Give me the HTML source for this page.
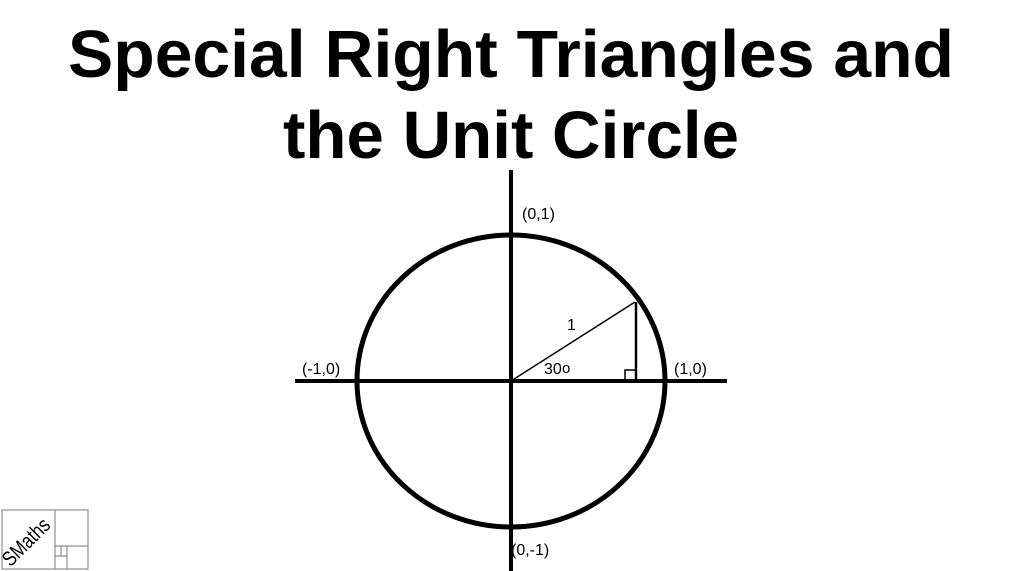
<!DOCTYPE html>
<html><head><meta charset="utf-8"><style>
html,body{margin:0;padding:0;background:#fff;}
svg{display:block;}
</style></head><body>
<svg width="1024" height="571" viewBox="0 0 1024 571" xmlns="http://www.w3.org/2000/svg">
<rect width="1024" height="571" fill="#fff"/>
<g font-family="Liberation Sans, Arial, sans-serif" font-weight="bold" font-size="67" fill="#000" text-anchor="middle">
<text x="511" y="77" textLength="886" lengthAdjust="spacingAndGlyphs">Special Right Triangles and</text>
<text x="511" y="158" textLength="456" lengthAdjust="spacingAndGlyphs">the Unit Circle</text>
</g>
<ellipse cx="511" cy="381" rx="154" ry="146" fill="none" stroke="#000" stroke-width="5"/>
<line x1="511" y1="170" x2="511" y2="571" stroke="#000" stroke-width="4"/>
<line x1="295" y1="381" x2="727" y2="381" stroke="#000" stroke-width="4"/>
<line x1="511" y1="381" x2="635" y2="302" stroke="#000" stroke-width="1.5"/>
<line x1="636" y1="302" x2="636" y2="381" stroke="#000" stroke-width="2.5"/>
<polyline points="625,381 625,370 636,370" fill="none" stroke="#000" stroke-width="1.5"/>
<g font-family="Liberation Sans, Arial, sans-serif" font-size="16" fill="#000">
<text x="522" y="219">(0,1)</text>
<text x="302" y="374">(-1,0)</text>
<text x="674" y="374">(1,0)</text>
<text x="511" y="555">(0,-1)</text>
<text x="567" y="330">1</text>
<text x="544" y="374">30</text>
<text x="562" y="373" font-size="15">o</text>
</g>
<g fill="none" stroke="#777" stroke-width="1">
<rect x="2" y="510" width="86" height="59"/>
<line x1="55" y1="510" x2="55" y2="569"/>
<line x1="55" y1="546" x2="88" y2="546"/>
<line x1="67" y1="546" x2="67" y2="569"/>
<line x1="55" y1="556" x2="67" y2="556"/>
<line x1="61" y1="546" x2="61" y2="556"/>
</g>
<text x="31" y="547" font-family="Liberation Sans, Arial, sans-serif" font-size="21" fill="#000" text-anchor="middle" transform="rotate(-45 31 547)" textLength="58" lengthAdjust="spacingAndGlyphs">SMaths</text>
</svg>
</body></html>
